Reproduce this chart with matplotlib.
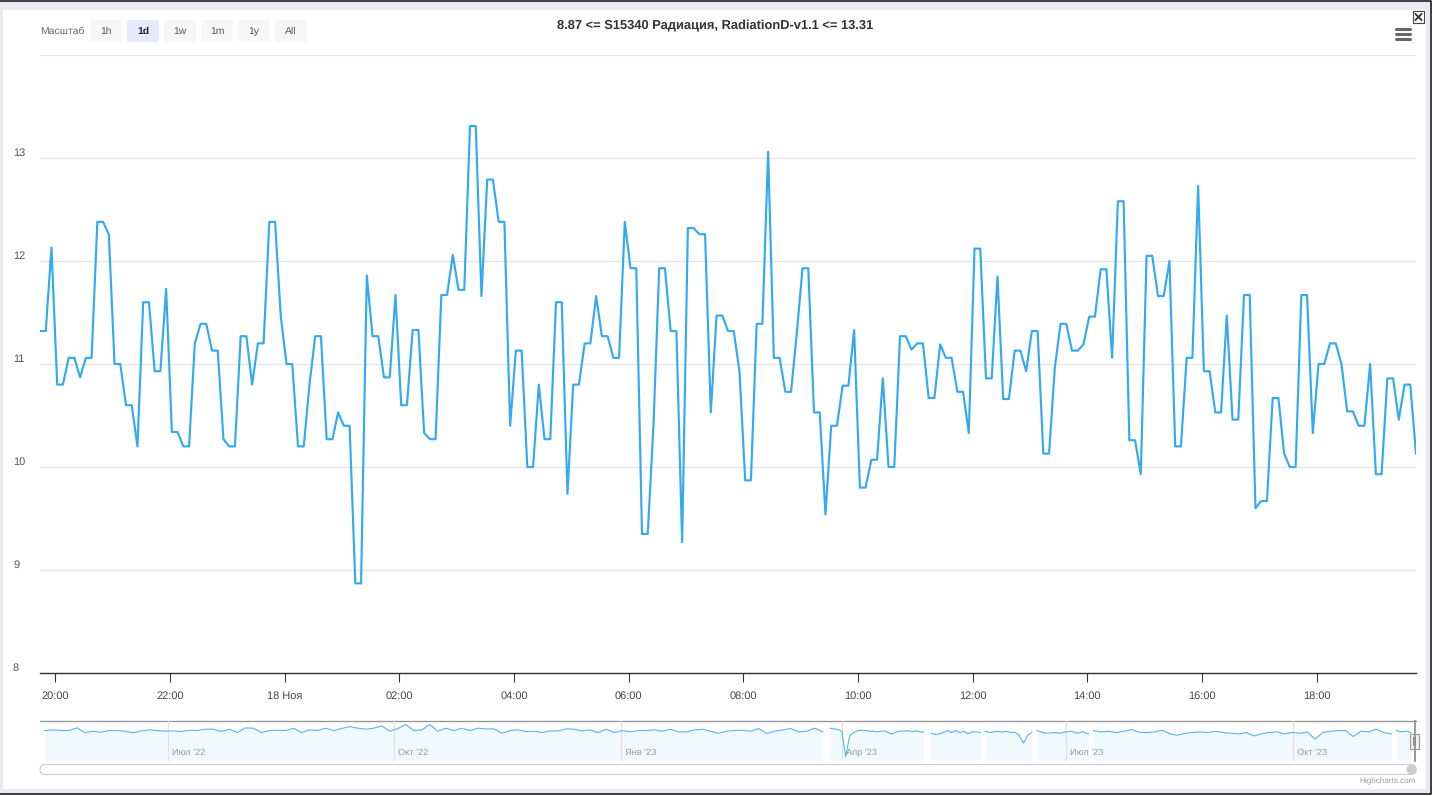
import numpy as np
import pandas as pd
import matplotlib
matplotlib.use("Agg")
import matplotlib.pyplot as plt
import matplotlib.dates as mdates
from matplotlib.patches import FancyBboxPatch, Rectangle, Circle

plt.rcParams['font.family'] = ['Liberation Sans', 'DejaVu Sans']
plt.rcParams['text.hinting'] = 'none'

W, H = 1432, 796

title = "8.87 <= S15340 Радиация, RadiationD-v1.1 <= 13.31"
zoom_label = "Масштаб"
zoom_buttons = ["1h", "1d", "1w", "1m", "1y", "All"]
selected_button = "1d"

# main series, one reading every 6 minutes
start_time = "2023-11-17 19:44"
values = [
    11.32, 11.32, 12.13, 10.80, 10.80, 11.06, 11.06, 10.87, 11.06, 11.06,
    12.38, 12.38, 12.26, 11.00, 11.00, 10.60, 10.60, 10.20, 11.60, 11.60,
    10.93, 10.93, 11.73, 10.34, 10.34, 10.20, 10.20, 11.20, 11.39, 11.39,
    11.13, 11.13, 10.27, 10.20, 10.20, 11.27, 11.27, 10.80, 11.20, 11.20,
    12.38, 12.38, 11.46, 11.00, 11.00, 10.20, 10.20, 10.80, 11.27, 11.27,
    10.27, 10.27, 10.53, 10.40, 10.40, 8.87, 8.87, 11.86, 11.27, 11.27,
    10.87, 10.87, 11.67, 10.60, 10.60, 11.33, 11.33, 10.33, 10.27, 10.27,
    11.67, 11.67, 12.06, 11.72, 11.72, 13.31, 13.31, 11.66, 12.79, 12.79,
    12.38, 12.38, 10.40, 11.13, 11.13, 10.00, 10.00, 10.80, 10.27, 10.27,
    11.60, 11.60, 9.74, 10.80, 10.80, 11.20, 11.20, 11.66, 11.27, 11.27,
    11.06, 11.06, 12.38, 11.93, 11.93, 9.35, 9.35, 10.40, 11.93, 11.93,
    11.32, 11.32, 9.27, 12.32, 12.32, 12.26, 12.26, 10.53, 11.47, 11.47,
    11.32, 11.32, 10.93, 9.87, 9.87, 11.39, 11.39, 13.06, 11.06, 11.06,
    10.73, 10.73, 11.30, 11.93, 11.93, 10.53, 10.53, 9.54, 10.40, 10.40,
    10.79, 10.79, 11.33, 9.80, 9.80, 10.07, 10.07, 10.86, 10.00, 10.00,
    11.27, 11.27, 11.14, 11.20, 11.20, 10.67, 10.67, 11.19, 11.06, 11.06,
    10.73, 10.73, 10.33, 12.12, 12.12, 10.86, 10.86, 11.85, 10.66, 10.66,
    11.13, 11.13, 10.93, 11.32, 11.32, 10.13, 10.13, 10.96, 11.39, 11.39,
    11.13, 11.13, 11.19, 11.46, 11.46, 11.92, 11.92, 11.06, 12.58, 12.58,
    10.26, 10.26, 9.93, 12.05, 12.05, 11.66, 11.66, 12.00, 10.20, 10.20,
    11.06, 11.06, 12.73, 10.93, 10.93, 10.53, 10.53, 11.47, 10.46, 10.46,
    11.67, 11.67, 9.60, 9.67, 9.67, 10.67, 10.67, 10.13, 10.00, 10.00,
    11.67, 11.67, 10.33, 11.00, 11.00, 11.20, 11.20, 11.00, 10.54, 10.54,
    10.40, 10.40, 11.00, 9.93, 9.93, 10.86, 10.86, 10.46, 10.80, 10.80,
    10.13,
]
y_ticks = [8, 9, 10, 11, 12, 13, 14]
y_tick_labels = ["8", "9", "10", "11", "12", "13"]
x_ticks = ["2023-11-17 20:00", "2023-11-17 22:00", "2023-11-18 00:00", "2023-11-18 02:00",
           "2023-11-18 04:00", "2023-11-18 06:00", "2023-11-18 08:00", "2023-11-18 10:00",
           "2023-11-18 12:00", "2023-11-18 14:00", "2023-11-18 16:00", "2023-11-18 18:00"]
x_tick_labels = ["20:00", "22:00", "18 Ноя", "02:00", "04:00", "06:00", "08:00", "10:00",
                 "12:00", "14:00", "16:00", "18:00"]

# navigator, overview of the whole period, split where data is missing
nav_dates = [
    ("2022-05-12", "2023-03-24"),
    ("2023-03-27", "2023-05-04"),
    ("2023-05-07", "2023-05-27"),
    ("2023-05-29", "2023-06-17"),
    ("2023-06-19", "2023-07-10"),
    ("2023-07-12", "2023-11-10"),
    ("2023-11-12", "2023-11-18"),
]
nav_values = [
    [10.9, 11.0, 10.9, 10.9, 11.3, 10.6, 10.8, 10.65, 10.9, 10.9, 10.8, 10.55, 10.85, 11.0, 10.9, 10.8,
     10.85, 10.75, 10.95, 10.9, 11.1, 11.1, 10.75, 11.1, 10.6, 11.3, 11.25, 10.6, 10.9, 10.95, 10.9,
     11.25, 10.6, 11.0, 10.9, 11.25, 10.9, 11.2, 11.5, 11.25, 11.1, 11.25, 11.6, 10.8, 11.2, 11.8,
     10.9, 11.0, 11.8, 10.8, 11.25, 10.9, 11.25, 10.9, 11.25,
     11.15, 11.15, 10.5, 10.9, 11.0, 10.75, 10.8, 10.6, 10.85, 10.85, 11.15, 11.1, 10.85, 11.0, 10.6,
     11.1, 10.6, 10.9, 10.7, 10.9, 10.9, 11.0, 10.8, 11.1, 10.7, 10.7, 11.0, 11.1, 10.8, 10.5, 10.8,
     10.9, 10.95, 10.8, 11.2, 10.45, 10.8, 11.0, 11.2, 10.7, 10.8, 11.25, 10.7],
    [11.25, 11.15, 11.05, 10.8, 7.0, 10.1, 10.6, 10.85, 10.95, 10.9, 10.8, 10.8, 10.7, 10.8, 10.85,
     10.55, 10.4, 10.7, 10.8, 10.85, 10.85, 10.75, 10.85, 10.75, 10.65],
    [10.5, 10.3, 10.4, 10.6, 10.9, 10.6, 10.9, 10.6, 10.8, 10.4, 10.7, 10.7, 10.6],
    [10.8, 10.6, 10.7, 10.8, 10.65, 10.8, 10.6, 10.65, 10.2, 9.0, 10.2, 10.65],
    [10.9, 10.6, 10.5, 10.6, 10.5, 10.7, 10.8, 10.5, 10.7, 10.4],
    [10.9, 10.7, 10.8, 10.6, 10.8, 11.05, 10.65, 10.6, 10.7, 10.95, 10.4, 10.2, 10.5, 10.6, 10.7, 10.6,
     10.8, 10.6, 10.5, 10.4, 10.6, 10.1, 10.4, 10.6, 10.7, 10.4, 10.6, 10.5, 10.7, 9.6, 10.6, 10.8,
     10.9, 10.9, 10.0, 10.8, 10.7, 11.1, 10.6, 10.4],
    [10.9, 10.7, 10.8, 10.6],
]
nav_ticks = ["2022-07-01", "2022-10-01", "2023-01-01", "2023-04-01", "2023-07-01", "2023-10-01"]
nav_tick_labels = ["Июл '22", "Окт '22", "Янв '23", "Апр '23", "Июл '23", "Окт '23"]


def px_axes(fig, left, top, right, bottom):
    return fig.add_axes([left / W, 1 - bottom / H, (right - left) / W, (bottom - top) / H])


fig = plt.figure(figsize=(W / 100, H / 100), dpi=100, facecolor='#e9eaf2')

# page frame and white panel
bg = fig.add_axes([0, 0, 1, 1], zorder=0)
bg.set_xlim(0, W)
bg.set_ylim(H, 0)
bg.axis('off')
bg.add_patch(Rectangle((3, 10), 1423, 779, fc='white', ec='none'))
bg.plot([0, 1431, 1431, 0], [1, 1, 794, 794], color='#111111', lw=1.1)
bg.add_patch(Rectangle((0, 795), W, 2, fc='white', ec='none'))

# main chart
ax = px_axes(fig, 40, 55, 1416, 673)
ax.patch.set_alpha(0)
times = pd.date_range(start_time, periods=len(values), freq="6min")
ax.plot(times, values, color='#33aaf0', lw=1.55, solid_joinstyle='round', zorder=3)
ax.set_xlim(times[0], times[-1])
ax.set_ylim(8, 14)
ax.set_yticks(y_ticks)
ax.set_yticklabels([])
ax.grid(axis='y', color='#e6e6e6', lw=1)
ax.set_axisbelow(True)
ax.tick_params(axis='y', length=0)
for s in ['top', 'left', 'right']:
    ax.spines[s].set_visible(False)
ax.spines['bottom'].set_color('#333333')
ax.spines['bottom'].set_linewidth(1)
ax.set_xticks(pd.to_datetime(x_ticks))
ax.set_xticklabels(x_tick_labels, fontsize=7.9, color='#444444')
ax.tick_params(axis='x', length=6.5, width=0.8, color='#333333', pad=6.5)
for v, lab in zip(y_ticks, y_tick_labels):
    ax.annotate(lab, xy=(0, v), xycoords=('axes fraction', 'data'), xytext=(-27, 5),
                textcoords='offset pixels', fontsize=7.9, color='#555555', ha='left', va='center')

# navigator
nav = px_axes(fig, 40, 720.5, 1416, 761)
nav.patch.set_alpha(0)
for (d0, d1), vals in zip(nav_dates, nav_values):
    d = mdates.date2num(pd.to_datetime([d0, d1]))
    xs = np.linspace(d[0], d[1], len(vals))
    nav.fill_between(xs, vals, 6.35, color='#f0f9fe', lw=0, zorder=1)
    nav.plot(xs, vals, color='#5ab4ea', lw=0.8, zorder=3)
nav.set_xlim(mdates.date2num(pd.Timestamp("2022-05-10")), mdates.date2num(pd.Timestamp("2023-11-20")))
nav.set_ylim(6.35, 12.4)
nav.set_yticks([])
nav.set_xticks(mdates.date2num(pd.to_datetime(nav_ticks)))
nav.set_xticklabels([])
nav.tick_params(axis='x', length=0)
nav.grid(axis='x', color='#e0e0e0', lw=0.8, zorder=2)
nav.set_axisbelow(False)
for s in ['left', 'right', 'bottom']:
    nav.spines[s].set_visible(False)
nav.spines['top'].set_color('#999999')
nav.spines['top'].set_linewidth(1)
for t, lab in zip(nav_ticks, nav_tick_labels):
    nav.annotate(lab, xy=(mdates.date2num(pd.Timestamp(t)), 0), xycoords=('data', 'axes fraction'),
                 xytext=(4, 8), textcoords='offset pixels', fontsize=6.7, color='#999999',
                 ha='left', va='center')

# everything that is not data: buttons, title, menu, scrollbar
top = fig.add_axes([0, 0, 1, 1], zorder=5)
top.set_xlim(0, W)
top.set_ylim(H, 0)
top.axis('off')
top.patch.set_alpha(0)

top.text(40, 31.5, zoom_label, fontsize=7.5, color='#666666', ha='left', va='center')
for i, lab in enumerate(zoom_buttons):
    x0 = 90 + 37 * i
    sel = lab == selected_button
    top.add_patch(FancyBboxPatch((x0 + 2, 22), 28, 18, boxstyle="round,pad=2,rounding_size=2",
                                 fc='#e6e9ff' if sel else '#f7f7f7', ec='none'))
    top.text(x0 + 16, 31.5, lab, fontsize=7.5, color='#222222' if sel else '#555555',
             fontweight='bold' if sel else 'normal', ha='center', va='center')

top.text(715, 26, title, fontsize=9.25, fontweight='bold', color='#333333', ha='center', va='center')

# menu icon
for y in [28.5, 33.5, 38.5]:
    top.plot([1396, 1410], [y, y], color='#666666', lw=2.2, solid_capstyle='round')

# close button
top.add_patch(Rectangle((1413, 11), 11, 12, fc='white', ec='#444444', lw=0.8))
top.plot([1415.5, 1421.5], [14, 20], color='#333333', lw=1.3)
top.plot([1415.5, 1421.5], [20, 14], color='#333333', lw=1.3)

# navigator handle and right edge
top.plot([1414.5, 1414.5], [720.5, 761], color='#999999', lw=1.4)
top.add_patch(Rectangle((1409.5, 733.5), 9, 15, fc='#f2f2f2', ec='#999999', lw=0.8))
top.plot([1413, 1413], [737, 745], color='#888888', lw=0.7)
top.plot([1415, 1415], [737, 745], color='#888888', lw=0.7)

# scrollbar
top.add_patch(FancyBboxPatch((40, 764.5), 1376, 10, boxstyle="round,pad=0,rounding_size=5",
                             fc='white', ec='#cccccc', lw=0.8))
top.add_patch(Circle((1411.5, 769.5), 5, fc='#cccccc', ec='none'))

top.text(1416, 781, "Highcharts.com", fontsize=5.9, color='#999999', ha='right', va='center')

fig.savefig("out.png", dpi=100, facecolor=fig.get_facecolor())
